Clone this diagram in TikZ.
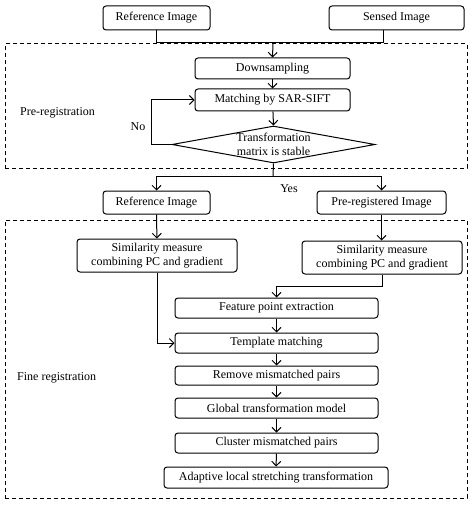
\documentclass[tikz,border=0pt]{standalone}
\usepackage{fontspec}
\setmainfont{Liberation Serif}
\usetikzlibrary{arrows.meta,shapes.geometric}
\begin{document}
\begin{tikzpicture}[x=1pt,y=-1pt,
 box/.style={draw, rounded corners=3pt, line width=1pt, inner sep=0pt, align=center, font=\fontsize{12}{13.5}\selectfont},
 arr/.style={-{Straight Barb[length=4.5pt,width=9pt]}, line width=1pt},
 ln/.style={line width=1pt},
 frame/.style={draw, line width=1pt, dash pattern=on 4pt off 3pt, inner sep=0pt},
 lbl/.style={font=\fontsize{12}{13.5}\selectfont, inner sep=0pt, align=center}]
\useasboundingbox (0,0) rectangle (474,508);
\node[frame, minimum width=462, minimum height=124] (f1) at (236,106) {};
\node[frame, minimum width=462, minimum height=278] (f2) at (236,359) {};

\node[box, minimum width=107, minimum height=24] (ref1) at (156.5,18) {Reference Image};
\node[box, minimum width=135, minimum height=24] (sens) at (396.5,18) {Sensed Image};
\node[box, minimum width=155, minimum height=21] (down) at (272.5,68.5) {Downsampling};
\node[box, minimum width=155, minimum height=22] (match) at (272.5,100) {Matching by SAR-SIFT};
\node[draw, line width=1pt, diamond, aspect=5.5, minimum width=203, minimum height=37, inner sep=0pt] (d) at (273.5,144.5) {};
\node[lbl] (dt) at (d.center) {Transformation\\matrix is stable};
\node[box, minimum width=107, minimum height=23] (ref2) at (156.5,202.5) {Reference Image};
\node[box, minimum width=129, minimum height=23] (prereg) at (381.5,202.5) {Pre-registered Image};
\node[box, minimum width=160, minimum height=33] (sim1) at (157,255.5) {Similarity measure\\combining PC and gradient};
\node[box, minimum width=160, minimum height=33] (sim2) at (382,257.5) {Similarity measure\\combining PC and gradient};
\node[box, minimum width=203, minimum height=20] (feat) at (276.5,308) {Feature point extraction};
\node[box, minimum width=203, minimum height=20] (tmpl) at (276.5,343) {Template matching};
\node[box, minimum width=203, minimum height=19] (remove) at (276.5,375.5) {Remove mismatched pairs};
\node[box, minimum width=203, minimum height=20] (glob) at (276.5,408) {Global transformation model};
\node[box, minimum width=203, minimum height=20] (clus) at (276.5,443) {Cluster mismatched pairs};
\node[box, minimum width=224, minimum height=21] (adapt) at (276,477.5) {Adaptive local stretching transformation};

\node[lbl, anchor=west] (pre) at (20,113) {Pre-registration};
\node[lbl, anchor=west] (fine) at (17,378) {Fine registration};
\node[lbl] (no) at (138,127) {No};
\node[lbl] (yes) at (289,189) {Yes};

\coordinate (j1) at (273,43);
\coordinate (s1) at (383,43);
\draw[ln] (ref1.south) |- (s1) -- (s1 |- sens.south);
\draw[arr] (j1) -- (down.north);
\draw[arr] (down) -- (match);
\draw[arr] (match) -- (d.north);
\draw[arr] (d.west) -- ++(-20,0) |- (match.west);
\coordinate (j2) at (273,176);
\draw[ln] (d.south) -- (j2);
\draw[arr] (j2) -| (ref2.north);
\draw[arr] (j2) -| (prereg.north);
\draw[arr] (ref2) -- (sim1);
\draw[arr] (prereg.south) -- (prereg.south |- sim2.north);
\draw[arr] (sim2.south) -- ++(0,12) -| (feat.north);
\draw[arr] (sim1.south) |- (tmpl.west);
\draw[arr] (feat) -- (tmpl);
\draw[arr] (tmpl) -- (remove);
\draw[arr] (remove) -- (glob);
\draw[arr] (glob) -- (clus);
\draw[arr] (clus) -- (adapt);
\end{tikzpicture}
\end{document}
